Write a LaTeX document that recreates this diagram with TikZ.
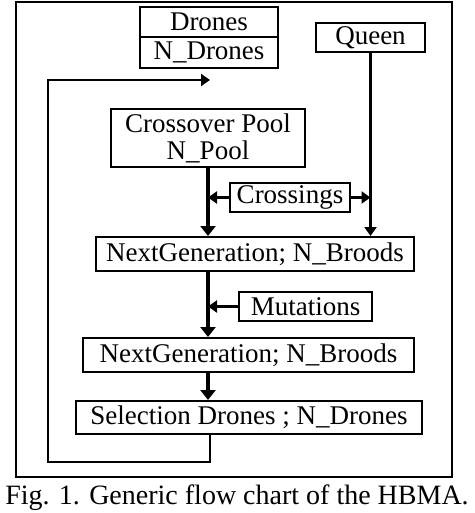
\documentclass[tikz,border=0pt]{standalone}
\usepackage{fontspec}
\setmainfont{Liberation Serif}
\usetikzlibrary{arrows.meta}
\begin{document}
\begin{tikzpicture}
        [x=1pt, y=-1pt,
        box/.style={draw, line width=2pt, inner sep=0pt, align=center,
                    font=\fontsize{27}{27}\selectfont},
        flow/.style={line width=4.5pt, -{Triangle[length=10pt,width=15pt]}},
        link/.style={line width=2.2pt, -{Triangle[length=9pt,width=12pt]}}]
        \useasboundingbox (0,0) rectangle (474,513);
        \draw[line width=2.5pt] (16,2) rectangle (452,477);

        \node[box, minimum width=138pt, minimum height=30pt] (drones) at (209,22) {Drones};
        \node[box, minimum width=138pt, minimum height=31pt] (ndrones) at (209,52.5) {N\_Drones};
        \node[box, minimum width=109pt, minimum height=29pt] (queen) at (370.5,37.5) {Queen};
        \node[box, minimum width=194pt, minimum height=58pt] (pool) at (208,138) {Crossover Pool\\N\_Pool};
        \node[box, minimum width=120pt, minimum height=29pt] (cross) at (290,197.5) {Crossings};
        \node[box, minimum width=318pt, minimum height=34pt] (gen1) at (255,254) {NextGeneration; N\_Broods};
        \node[box, minimum width=133pt, minimum height=29pt] (mut) at (305.5,306.5) {Mutations};
        \node[box, minimum width=331pt, minimum height=34pt] (gen2) at (248.5,355) {NextGeneration; N\_Broods};
        \node[box, minimum width=346pt, minimum height=33pt] (sel) at (249,417.5) {Selection Drones ; N\_Drones};

        \coordinate (back) at (210,80);
        \coordinate (corner) at (48,462);

        \draw[flow] (pool.south) -- (pool.south |- gen1.north);
        \draw[link] (queen.south) -- (queen.south |- gen1.north);
        \draw[link] (cross.west) -- (cross.west -| pool.south);
        \draw[link] (cross.east) -- (cross.east -| queen.south);
        \draw[flow] (gen1.south -| pool.south) -- (gen2.north -| pool.south);
        \draw[link] (mut.west) -- (mut.west -| pool.south);
        \draw[flow] (gen2.south -| pool.south) -- (sel.north -| pool.south);
        \draw[link] (sel.south -| back) |- (corner) |- (back);

        \node[anchor=base, font=\fontsize{28}{30}\selectfont] (caption) at (237,504)
            {Fig. 1. Generic flow chart of the HBMA.};
    \end{tikzpicture}
\end{document}
